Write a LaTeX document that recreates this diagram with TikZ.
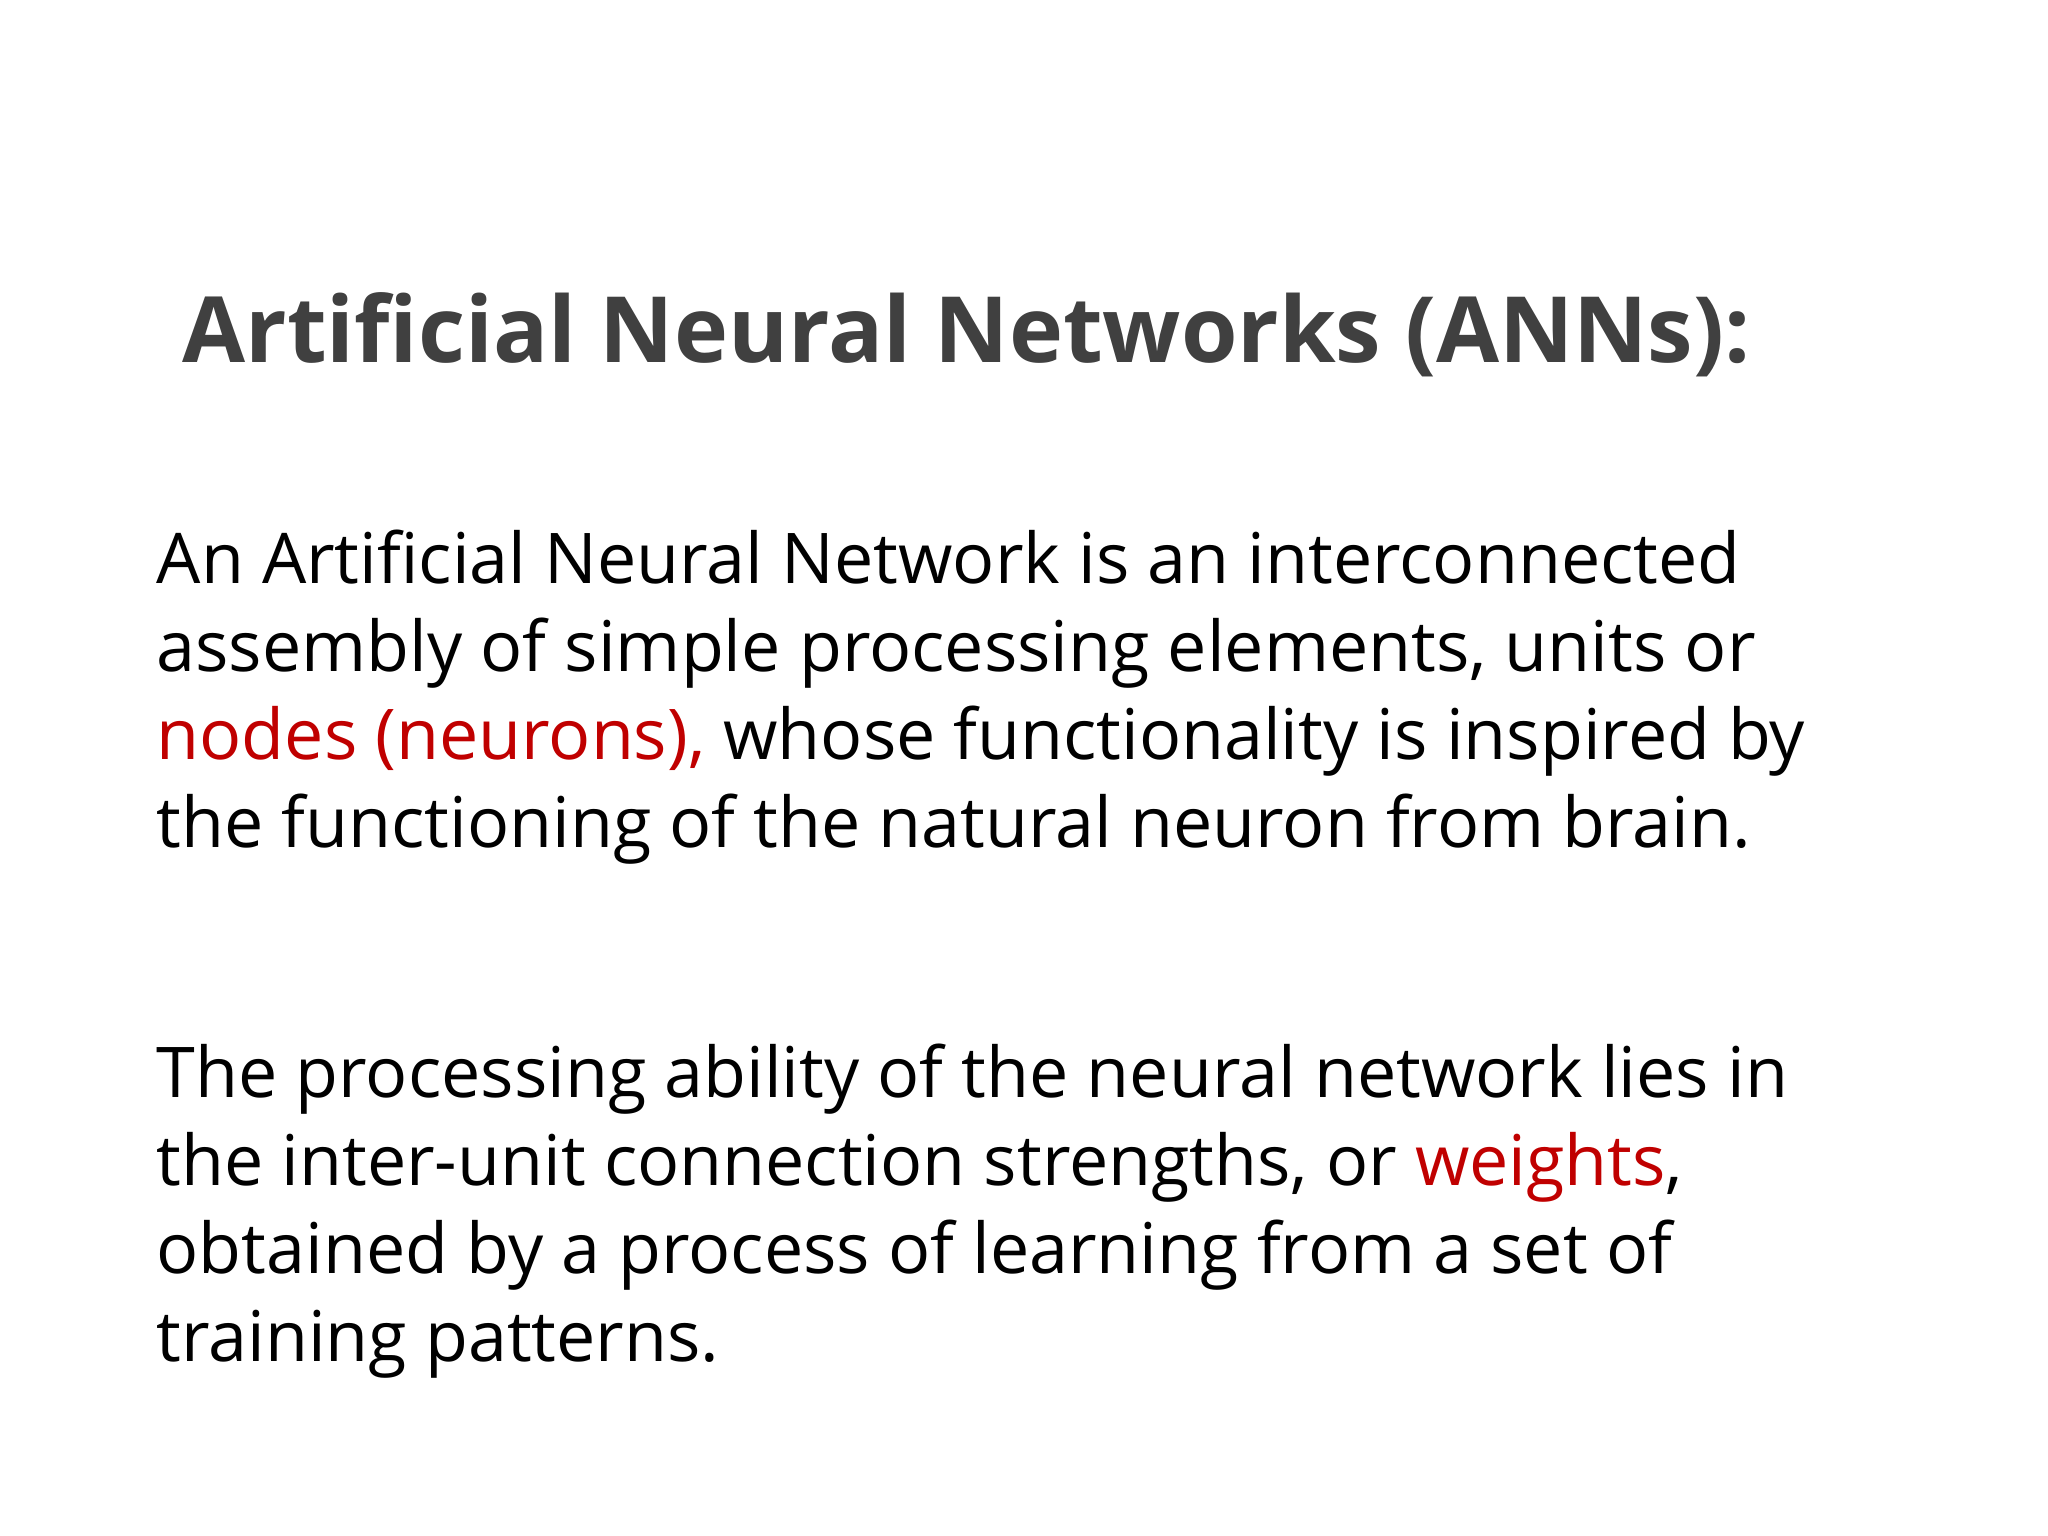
\documentclass[tikz,border=0pt]{standalone}
\usepackage{fontspec}
\setmainfont{Open Sans}
\definecolor{titlegray}{HTML}{404040}
\definecolor{accred}{HTML}{C00000}
\begin{document}
\begin{tikzpicture}[x=0.01cm,y=-0.01cm,
  titlestyle/.style={anchor=base west,inner sep=0pt,font=\fontsize{26pt}{32pt}\selectfont\bfseries,text=titlegray},
  bodystyle/.style={anchor=base west,inner sep=0pt,font=\fontsize{19.9pt}{25pt}\selectfont,text=black}]
\useasboundingbox (0,0) rectangle (2048,1536);
\node[titlestyle] (title) at (182,362) {Artificial Neural Networks (ANNs):};
\node[bodystyle] (a1) at (156,583) {An Artificial Neural Network is an interconnected};
\node[bodystyle] (a2) at (156,671) {assembly of simple processing elements, units or};
\node[bodystyle] (a3) at (156,759) {\textcolor{accred}{nodes (neurons),} whose functionality is inspired by};
\node[bodystyle] (a4) at (156,847) {the functioning of the natural neuron from brain.};
\node[bodystyle] (b1) at (156,1097) {The processing ability of the neural network lies in};
\node[bodystyle] (b2) at (156,1185) {the inter-unit connection strengths, or \textcolor{accred}{weights},};
\node[bodystyle] (b3) at (156,1273) {obtained by a process of learning from a set of};
\node[bodystyle] (b4) at (156,1361) {training patterns.};
\end{tikzpicture}
\end{document}
